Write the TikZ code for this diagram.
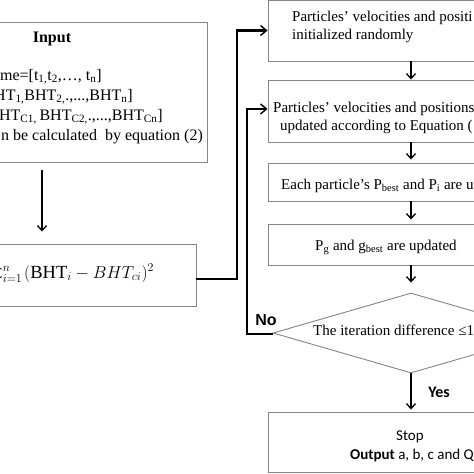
\documentclass[tikz,border=0pt]{standalone}
\usepackage{fontspec}
\setmainfont{Liberation Serif}
\newfontfamily\carl{Carlito}
\newfontfamily\arl{Liberation Sans}
\usetikzlibrary{arrows.meta,shapes.geometric}
\definecolor{boxgray}{HTML}{858585}
\tikzset{
  box/.style={draw=boxgray, line width=0.9pt, rectangle, inner sep=0pt},
  arr/.style={-{Straight Barb[length=5pt,width=9pt,line width=1.3pt]}, line width=1.4pt},
  conn/.style={-{Straight Barb[length=6pt,width=10pt,line width=1.4pt]}, line width=2.2pt},
  txt/.style={inner sep=0pt, font=\fontsize{15}{18}\selectfont},
  ltxt/.style={inner sep=0pt, font=\fontsize{16}{19}\selectfont, anchor=base east},
  rtxt/.style={txt, anchor=base west}
}
\begin{document}
\begin{tikzpicture}[x=1pt,y=-1pt]
\useasboundingbox (0,0) rectangle (474,474);
\fill[white] (0,0) rectangle (474,474);
\clip (0,0) rectangle (474,474);

% left boxes
\node[box, minimum width=330pt, minimum height=140pt] (input) at (42,92) {};
\node[box, minimum width=330pt, minimum height=62pt] (form) at (31,275) {};
\node[inner sep=0pt, font=\bfseries\fontsize{16}{19}\selectfont] (tin) at (52,39) {Input};
\node[ltxt] (l1) at (102,80) {me=[t\textsubscript{1,}t\textsubscript{2},\dots, t\textsubscript{n}]};
\node[ltxt] (l2) at (133,100) {HT\textsubscript{1,}BHT\textsubscript{2,}.,...,BHT\textsubscript{n}]};
\node[ltxt] (l3) at (163,120) {HT\textsubscript{C1,}\,BHT\textsubscript{C2,}.,...,BHT\textsubscript{Cn}]};
\node[ltxt] (l4) at (203,140) {n be calculated\ \ by equation (2)};
\node[inner sep=0pt, anchor=base west, font=\fontsize{18.5}{22}\selectfont] (ftx) at (-8,278)
  {$\sum_{i=1}^{n}\mkern2mu(\mathrm{BHT}_i - BHT_{ci})^2$};

% right boxes
\node[box, minimum width=286pt, minimum height=61pt] (b1) at (411,30.5) {};
\node[box, minimum width=286pt, minimum height=62pt] (b2) at (411,111) {};
\node[box, minimum width=286pt, minimum height=38pt] (b3) at (411,182) {};
\node[box, minimum width=286pt, minimum height=41pt] (b4) at (411,244.5) {};
\node[draw=boxgray, line width=0.9pt, diamond, inner sep=0pt, aspect=3.45,
      minimum width=276pt, minimum height=80pt] (dia) at (411,333) {};
\node[box, minimum width=286pt, minimum height=60pt] (stop) at (411,442) {};

\node[rtxt] (t1a) at (292,21) {Particles’ velocities and positi};
\node[rtxt] (t1b) at (292,39) {initialized randomly};
\node[rtxt] (t2a) at (273,112) {Particles’ velocities and positions};
\node[rtxt] (t2b) at (280,130) {updated according to Equation (};
\node[rtxt] (t3) at (281,189) {Each particle’s P\textsubscript{best} and P\textsubscript{i} are u};
\node[rtxt] (t4) at (315,250) {P\textsubscript{g} and g\textsubscript{best} are updated};
\node[rtxt] (td) at (313,335) {The iteration difference ≤1};
\node[inner sep=0pt, font=\carl\fontsize{15}{18}\selectfont] (ts) at (410,437) {Stop};
\node[inner sep=0pt, anchor=base west, font=\carl\fontsize{15}{18}\selectfont] (to) at (350,459)
  {\textbf{Output} a, b, c and Q};
\node[inner sep=0pt, font=\arl\bfseries\fontsize{16}{19}\selectfont] (no) at (266,320) {No};
\node[inner sep=0pt, font=\carl\bfseries\fontsize{16}{19}\selectfont] (yes) at (439,392) {Yes};

% arrows
\draw[arr, shorten <=8pt, shorten >=12pt] (input.south) -- (input.south |- form.north);
\draw[arr] (b1.south) -- (b2.north);
\draw[arr, shorten >=3pt] (b2.south) -- (b3.north);
\draw[arr, shorten >=4pt] (b3.south) -- (b4.north);
\draw[arr, shorten >=10pt] (b4.south) -- (dia.north);
\draw[arr, shorten >=2pt] (dia.south) -- (stop.north);

\coordinate (c1) at (237,279);
\draw[conn] (form.east |- c1) -- (c1) |- (b1.west);
\coordinate (c2) at (247,334);
\draw[conn] (dia.west |- c2) -- (c2) |- ([yshift=2pt]b2.west);
\end{tikzpicture}
\end{document}
